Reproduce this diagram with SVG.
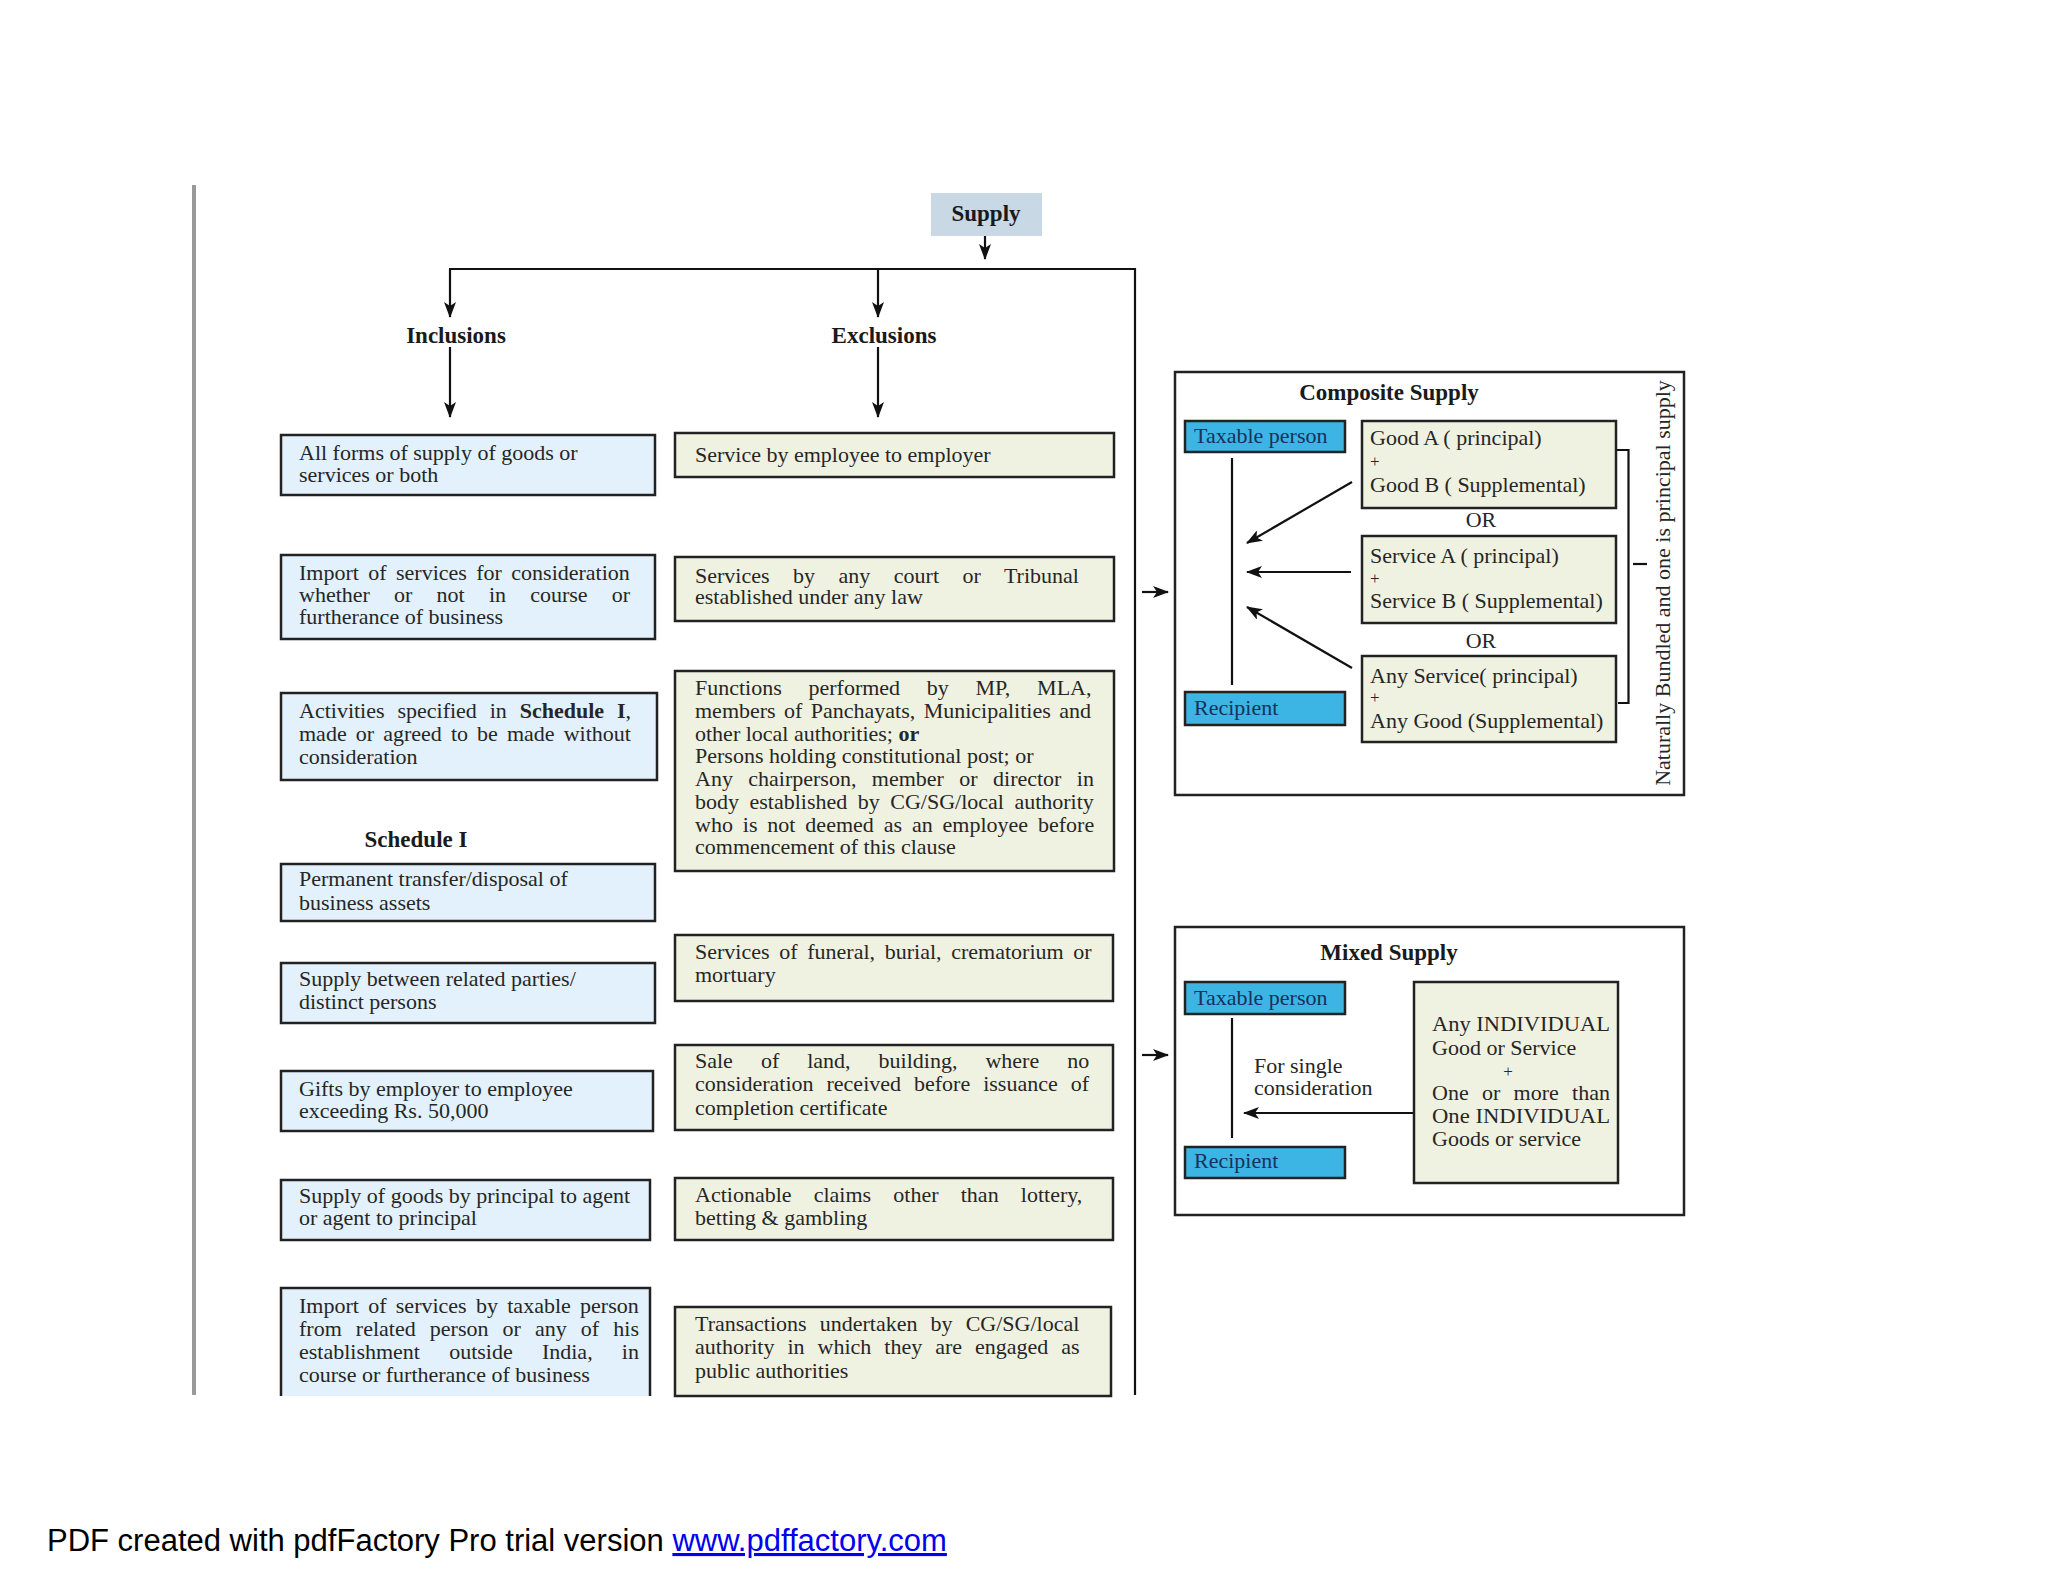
<svg xmlns="http://www.w3.org/2000/svg" width="2048" height="1582" viewBox="0 0 2048 1582">
<defs>
<style>
.t{font-family:"Liberation Serif","Times New Roman",serif;font-size:22px;fill:#262626}
.h{font-family:"Liberation Serif","Times New Roman",serif;font-size:23px;font-weight:bold;fill:#1a1a1a}
.inc{fill:#e2f1fb;stroke:#222;stroke-width:2.5}
.exc{fill:#f0f2e1;stroke:#222;stroke-width:2.5}
.blu{fill:#3cb4e4;stroke:#222;stroke-width:2.5}
.bt{font-family:"Liberation Serif","Times New Roman",serif;font-size:22px;fill:#16325a}
.frame{fill:none;stroke:#222;stroke-width:2.5}
.ln{fill:none;stroke:#111;stroke-width:2.2}
.plus{font-family:"Liberation Serif","Times New Roman",serif;font-size:17px;fill:#262626}
</style>
<marker id="ah" viewBox="0 0 16 12" refX="15" refY="6" markerWidth="16" markerHeight="12" markerUnits="userSpaceOnUse" orient="auto">
<path d="M0,0 L16,6 L0,12 L4,6 z" fill="#111"/>
</marker>
</defs>
<rect width="2048" height="1582" fill="#ffffff"/>
<rect x="192" y="185" width="4" height="1210" fill="#9a9a9a"/>

<g id="connectors">
<path class="ln" d="M985,236 V259" marker-end="url(#ah)"/>
<path class="ln" d="M449,269 H1135 V1395"/>
<path class="ln" d="M450,269 V317" marker-end="url(#ah)"/>
<path class="ln" d="M878,269 V317" marker-end="url(#ah)"/>
<path class="ln" d="M450,347 V417" marker-end="url(#ah)"/>
<path class="ln" d="M878,347 V417" marker-end="url(#ah)"/>
<path class="ln" d="M1142,592 H1168" marker-end="url(#ah)"/>
<path class="ln" d="M1142,1055 H1168" marker-end="url(#ah)"/>
<path class="ln" d="M1352,482 L1247,543" marker-end="url(#ah)"/>
<path class="ln" d="M1351,572 H1247" marker-end="url(#ah)"/>
<path class="ln" d="M1352,668 L1247,607" marker-end="url(#ah)"/>
<path class="ln" d="M1232,458 V685"/>
<path class="ln" d="M1616,450 H1628.5 V703 H1618"/>
<path class="ln" d="M1633,564 H1647"/>
<path class="ln" d="M1232,1018 V1138"/>
<path class="ln" d="M1415,1113 H1244" marker-end="url(#ah)"/>
</g>

<g id="supply">
<rect x="931" y="193" width="111" height="43" fill="#c8d8e4"/>
<text class="h" x="986" y="221" text-anchor="middle">Supply</text>
</g>
<g id="inclusions"><text class="h" x="456" y="343" text-anchor="middle">Inclusions</text></g>
<g id="exclusions"><text class="h" x="884" y="343" text-anchor="middle">Exclusions</text></g>

<g id="inc1">
<rect class="inc" x="281" y="435" width="374" height="60"/>
<text class="t" x="299" y="460">All forms of supply of goods or</text>
<text class="t" x="299" y="482">services or both</text>
</g>
<g id="inc2">
<rect class="inc" x="281" y="555" width="374" height="84"/>
<text class="t" x="299" y="580" style="word-spacing:3.9px">Import of services for consideration</text>
<text class="t" x="299" y="602" style="word-spacing:18.7px">whether or not in course or</text>
<text class="t" x="299" y="624">furtherance of business</text>
</g>
<g id="inc3">
<rect class="inc" x="281" y="693" width="376" height="87"/>
<text class="t" x="299" y="718" style="word-spacing:7.4px">Activities specified in <tspan font-weight="bold">Schedule I</tspan>,</text>
<text class="t" x="299" y="741" style="word-spacing:3.6px">made or agreed to be made without</text>
<text class="t" x="299" y="764">consideration</text>
</g>
<g id="schedule"><text class="h" x="416" y="847" text-anchor="middle">Schedule I</text></g>
<g id="inc4">
<rect class="inc" x="281" y="864" width="374" height="57"/>
<text class="t" x="299" y="886">Permanent transfer/disposal of</text>
<text class="t" x="299" y="910">business assets</text>
</g>
<g id="inc5">
<rect class="inc" x="281" y="963" width="374" height="60"/>
<text class="t" x="299" y="986">Supply between related parties/</text>
<text class="t" x="299" y="1009">distinct persons</text>
</g>
<g id="inc6">
<rect class="inc" x="281" y="1071" width="372" height="60"/>
<text class="t" x="299" y="1096">Gifts by employer to employee</text>
<text class="t" x="299" y="1118">exceeding Rs. 50,000</text>
</g>
<g id="inc7">
<rect class="inc" x="281" y="1180" width="369" height="60"/>
<text class="t" x="299" y="1203">Supply of goods by principal to agent</text>
<text class="t" x="299" y="1225">or agent to principal</text>
</g>
<g id="inc8">
<path d="M281,1396 V1288 H650 V1396 Z" fill="#e2f1fb"/>
<path class="frame" d="M281,1396 V1288 H650 V1396"/>
<text class="t" x="299" y="1313" style="word-spacing:3.8px">Import of services by taxable person</text>
<text class="t" x="299" y="1336" style="word-spacing:8.6px">from related person or any of his</text>
<text class="t" x="299" y="1359" style="word-spacing:23.7px">establishment outside India, in</text>
<text class="t" x="299" y="1382">course or furtherance of business</text>
</g>

<g id="exc1">
<rect class="exc" x="675" y="433" width="439" height="44"/>
<text class="t" x="695" y="462">Service by employee to employer</text>
</g>
<g id="exc2">
<rect class="exc" x="675" y="557" width="439" height="64"/>
<text class="t" x="695" y="583" style="word-spacing:18px">Services by any court or Tribunal</text>
<text class="t" x="695" y="604">established under any law</text>
</g>
<g id="exc3">
<rect class="exc" x="675" y="671" width="439" height="200"/>
<text class="t" x="695" y="695" style="word-spacing:21.2px">Functions performed by MP, MLA,</text>
<text class="t" x="695" y="718" style="word-spacing:2.9px">members of Panchayats, Municipalities and</text>
<text class="t" x="695" y="741">other local authorities; <tspan font-weight="bold">or</tspan></text>
<text class="t" x="695" y="763">Persons holding constitutional post; or</text>
<text class="t" x="695" y="786" style="word-spacing:9.9px">Any chairperson, member or director in</text>
<text class="t" x="695" y="809" style="word-spacing:5px">body established by CG/SG/local authority</text>
<text class="t" x="695" y="832" style="word-spacing:4.4px">who is not deemed as an employee before</text>
<text class="t" x="695" y="854">commencement of this clause</text>
</g>
<g id="exc4">
<rect class="exc" x="675" y="935" width="438" height="66"/>
<text class="t" x="695" y="959" style="word-spacing:4.2px">Services of funeral, burial, crematorium or</text>
<text class="t" x="695" y="982">mortuary</text>
</g>
<g id="exc5">
<rect class="exc" x="675" y="1045" width="438" height="85"/>
<text class="t" x="695" y="1068" style="word-spacing:22.5px">Sale of land, building, where no</text>
<text class="t" x="695" y="1091" style="word-spacing:7.5px">consideration received before issuance of</text>
<text class="t" x="695" y="1115">completion certificate</text>
</g>
<g id="exc6">
<rect class="exc" x="675" y="1178" width="438" height="62"/>
<text class="t" x="695" y="1202" style="word-spacing:16.7px">Actionable claims other than lottery,</text>
<text class="t" x="695" y="1225">betting &amp; gambling</text>
</g>
<g id="exc7">
<rect class="exc" x="675" y="1307" width="436" height="89"/>
<text class="t" x="695" y="1331" style="word-spacing:7.6px">Transactions undertaken by CG/SG/local</text>
<text class="t" x="695" y="1354" style="word-spacing:7.5px">authority in which they are engaged as</text>
<text class="t" x="695" y="1378">public authorities</text>
</g>

<g id="composite">
<rect class="frame" x="1175" y="372" width="509" height="423"/>
<text class="h" x="1389" y="400" text-anchor="middle">Composite Supply</text>
<text class="t" transform="translate(1670,583) rotate(-90)" text-anchor="middle">Naturally Bundled and one is principal supply</text>
</g>
<g id="comp-taxable">
<rect class="blu" x="1185" y="421" width="160" height="31"/>
<text class="bt" x="1194" y="443">Taxable person</text>
</g>
<g id="comp-recipient">
<rect class="blu" x="1185" y="692" width="160" height="33"/>
<text class="bt" x="1194" y="715">Recipient</text>
</g>
<g id="comp-goods">
<rect class="exc" x="1362" y="421" width="254" height="87"/>
<text class="t" x="1370" y="445">Good A ( principal)</text>
<text class="plus" x="1370" y="467">+</text>
<text class="t" x="1370" y="492">Good B ( Supplemental)</text>
</g>
<text class="t" x="1481" y="527" text-anchor="middle">OR</text>
<g id="comp-services">
<rect class="exc" x="1362" y="536" width="254" height="87"/>
<text class="t" x="1370" y="563">Service A ( principal)</text>
<text class="plus" x="1370" y="584">+</text>
<text class="t" x="1370" y="608">Service B ( Supplemental)</text>
</g>
<text class="t" x="1481" y="648" text-anchor="middle">OR</text>
<g id="comp-mixed">
<rect class="exc" x="1362" y="656" width="254" height="86"/>
<text class="t" x="1370" y="683">Any Service( principal)</text>
<text class="plus" x="1370" y="703">+</text>
<text class="t" x="1370" y="728">Any Good (Supplemental)</text>
</g>

<g id="mixed">
<rect class="frame" x="1175" y="927" width="509" height="288"/>
<text class="h" x="1389" y="960" text-anchor="middle">Mixed Supply</text>
<text class="t" x="1254" y="1073">For single</text>
<text class="t" x="1254" y="1095">consideration</text>
</g>
<g id="mix-taxable">
<rect class="blu" x="1185" y="982" width="160" height="32"/>
<text class="bt" x="1194" y="1005">Taxable person</text>
</g>
<g id="mix-recipient">
<rect class="blu" x="1185" y="1147" width="160" height="31"/>
<text class="bt" x="1194" y="1168">Recipient</text>
</g>
<g id="mix-items">
<rect class="exc" x="1414" y="982" width="204" height="201"/>
<text class="t" x="1432" y="1031" textLength="178" lengthAdjust="spacingAndGlyphs">Any INDIVIDUAL</text>
<text class="t" x="1432" y="1055">Good or Service</text>
<text class="plus" x="1508" y="1077" text-anchor="middle">+</text>
<text class="t" x="1432" y="1100" style="word-spacing:7.8px">One or more than</text>
<text class="t" x="1432" y="1123" textLength="178" lengthAdjust="spacingAndGlyphs">One INDIVIDUAL</text>
<text class="t" x="1432" y="1146">Goods or service</text>
</g>

<g id="footer">
<text x="47" y="1551" font-family="Liberation Sans, Arial, sans-serif" font-size="31" fill="#000">PDF created with pdfFactory Pro trial version <tspan fill="#0000ee" text-decoration="underline">www.pdffactory.com</tspan></text>
</g>
</svg>
